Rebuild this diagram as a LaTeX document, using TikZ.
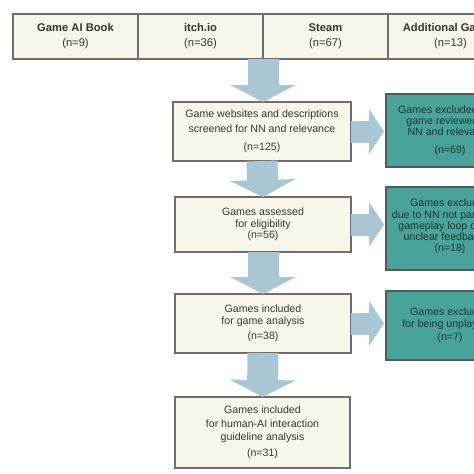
\documentclass[tikz,border=0pt]{standalone}
\usepackage{fontspec}
\setmainfont{Liberation Sans}
\definecolor{sourcefill}{HTML}{F8F5EA}
\definecolor{boxline}{HTML}{6E6E6E}
\definecolor{flowblue}{HTML}{AAC6D2}
\definecolor{excludeteal}{HTML}{49A398}
\definecolor{excludeline}{HTML}{505A58}
\definecolor{textgray}{HTML}{353535}
\definecolor{darktext}{HTML}{1E3634}
\usetikzlibrary{arrows.meta,positioning}
\tikzset{
    sourcebox/.style={
        draw=boxline,
        fill=sourcefill,
        line width=1.2pt,
        outer sep=0pt,
        minimum width=125pt,
        minimum height=45pt,
        align=center,
        text=textgray,
        font=\fontsize{11.2}{15}\selectfont
    },
    stagebox/.style={
        draw=boxline,
        fill=sourcefill,
        line width=1.2pt,
        outer sep=0pt,
        minimum width=176pt,
        align=center,
        text=textgray,
        font=\fontsize{10.6}{12}\selectfont
    },
    excludebox/.style={
        draw=excludeline,
        fill=excludeteal,
        line width=1.2pt,
        outer sep=0pt,
        minimum width=128pt,
        align=center,
        text=darktext,
        font=\fontsize{10.6}{11.3}\selectfont
    },
    downflow/.style={
        -{Triangle[length=17pt,width=65pt]},
        draw=flowblue,
        line width=31pt
    },
    sideflow/.style={
        -{Triangle[length=15pt,width=44pt]},
        draw=flowblue,
        line width=22pt,
        shorten >=2pt
    }
}
\begin{document}
\begin{tikzpicture}[x=1pt,y=-1pt]
    \useasboundingbox (0,0) rectangle (474,474);
    \clip (0,0) rectangle (474,474);

    % sources
    \node[sourcebox] (book) at (75.5,36.5)
        {\textbf{Game AI Book}\\(n=9)};
    \node[sourcebox,right=0pt of book] (itch)
        {\textbf{itch.io}\\(n=36)};
    \node[sourcebox,right=0pt of itch] (steam)
        {\textbf{Steam}\\(n=67)};
    \node[sourcebox,right=0pt of steam] (additional)
        {\textbf{Additional Games}\\(n=13)};

    % screening stages
    \node[stagebox,minimum width=178pt,minimum height=59pt,
          font=\fontsize{10.6}{15}\selectfont] (screen) at (262,131.5)
        {Game websites and descriptions\\screened for NN and relevance\\[3pt](n=125)};
    \node[stagebox,minimum height=55pt,
          font=\fontsize{10.6}{11.5}\selectfont] (eligible) at (263,224.5)
        {Games assessed\\for eligibility\\(n=56)};
    \node[stagebox,minimum height=59pt] (analysis) at (263,323.5)
        {Games included\\for game analysis\\[3pt](n=38)};
    \node[stagebox,minimum width=175pt,minimum height=71pt,
          font=\fontsize{10.6}{13.5}\selectfont] (guideline) at (262.5,432.5)
        {Games included\\for human-AI interaction\\guideline analysis\\[2pt](n=31)};

    % exclusions
    \node[excludebox,minimum height=73pt] (exclrelevance) at (450,130.5)
        {Games excluded after\\game reviewed for\\NN and relevance\\[6pt](n=69)};
    \node[excludebox,minimum height=83pt,text depth=6pt] (excleligible) at (450,228.5)
        {Games excluded\\due to NN not part of the\\gameplay loop or with\\unclear feedback to\\(n=18)};
    \node[excludebox,minimum height=69pt] (exclplayable) at (450,325.5)
        {Games excluded\\for being unplayable\\[2pt](n=7)};

    \draw[downflow] (itch.south east) -- (itch.south east |- screen.north);
    \draw[downflow] (screen.south) -- (eligible.north);
    \draw[downflow] (eligible.south) -- (analysis.north);
    \draw[downflow] (analysis.south) -- (guideline.north);
    \draw[sideflow] (screen.east) -- (screen.east -| exclrelevance.west);
    \draw[sideflow] (eligible.east) -- (eligible.east -| excleligible.west);
    \draw[sideflow] (analysis.east) -- (analysis.east -| exclplayable.west);
\end{tikzpicture}
\end{document}
